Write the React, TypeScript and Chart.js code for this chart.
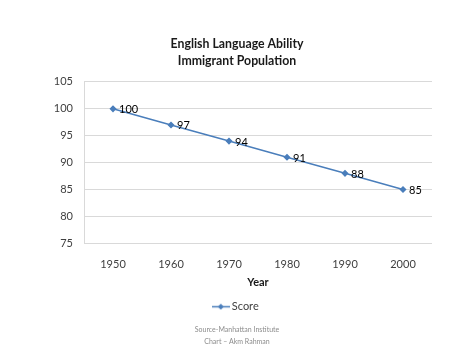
import React, { useEffect, useRef } from "react";
import { Chart, registerables } from "chart.js";

Chart.register(...registerables);

const years = ["1950", "1960", "1970", "1980", "1990", "2000"];
const scores = [100, 97, 94, 91, 88, 85];
const titleLines = ["English Language Ability", "Immigrant Population"];
const footerLines = ["Source-Manhattan Institute", "Chart \u2013 Akm Rahman"];
const seriesName = "Score";
const xTitle = "Year";

const LINE = "#4a7ebb";
const FONT = "Lato, 'Liberation Sans', sans-serif";

function makeLegendIcon(): HTMLCanvasElement {
  const c = document.createElement("canvas");
  c.width = 18;
  c.height = 7;
  const ctx = c.getContext("2d")!;
  ctx.strokeStyle = LINE;
  ctx.lineWidth = 1.5;
  ctx.beginPath();
  ctx.moveTo(0, 3.5);
  ctx.lineTo(18, 3.5);
  ctx.stroke();
  ctx.fillStyle = LINE;
  ctx.beginPath();
  ctx.moveTo(9, 0.5);
  ctx.lineTo(12, 3.5);
  ctx.lineTo(9, 6.5);
  ctx.lineTo(6, 3.5);
  ctx.closePath();
  ctx.fill();
  return c;
}

const dataLabels = {
  id: "dataLabels",
  afterDatasetsDraw(chart: any) {
    const ctx = chart.ctx;
    const meta = chart.getDatasetMeta(0);
    ctx.save();
    ctx.font = `11px ${FONT}`;
    ctx.fillStyle = "#000";
    ctx.textAlign = "left";
    ctx.textBaseline = "middle";
    meta.data.forEach((pt: any, i: number) => {
      ctx.fillText(String(scores[i]), pt.x + 6, pt.y + 1);
    });
    ctx.restore();
  },
};

export default function App() {
  const ref = useRef<HTMLCanvasElement | null>(null);
  useEffect(() => {
    if (!ref.current) return;
    const icon = makeLegendIcon();
    const chart = new Chart(ref.current, {
      type: "line",
      data: {
        labels: years,
        datasets: [
          {
            label: seriesName,
            data: scores,
            borderColor: LINE,
            backgroundColor: LINE,
            borderWidth: 1.5,
            pointStyle: "rectRot",
            pointRadius: 2.5,
            pointBackgroundColor: LINE,
            pointBorderColor: LINE,
            tension: 0,
          },
        ],
      },
      options: {
        animation: false,
        responsive: false,
        layout: { padding: { left: 0, right: 0, top: 0, bottom: 0 } },
        plugins: {
          title: {
            display: true,
            text: titleLines,
            color: "#1a1a1a",
            font: { family: FONT, size: 12.3, weight: "bold", lineHeight: 1.38 },
            padding: { top: 36, bottom: 12 },
          },
          subtitle: {
            display: true,
            position: "bottom",
            text: footerLines,
            color: "#8c8c8c",
            font: { family: FONT, size: 7, lineHeight: 1.7 },
            padding: { top: 2, bottom: 7 },
          },
          legend: {
            position: "bottom",
            labels: {
              usePointStyle: true,
              color: "#404040",
              font: { family: FONT, size: 11 },
              padding: 6,
              generateLabels: () => [
                {
                  text: seriesName,
                  pointStyle: icon as any,
                  fillStyle: LINE,
                  strokeStyle: LINE,
                  lineWidth: 0,
                  hidden: false,
                  datasetIndex: 0,
                  fontColor: "#404040",
                },
              ],
            },
          },
          tooltip: { enabled: false },
        },
        scales: {
          x: {
            offset: true,
            grid: { display: false, drawTicks: false },
            border: { display: false },
            ticks: {
              color: "#404040",
              font: { family: FONT, size: 11 },
              padding: 15,
            },
            title: {
              display: true,
              text: xTitle,
              color: "#1a1a1a",
              font: { family: FONT, size: 11, weight: "bold" },
              padding: { top: 4, bottom: 6 },
            },
            afterFit: (s: any) => {
              s.height = 52;
            },
          },
          y: {
            min: 75,
            max: 105,
            grid: { color: "#d9d9d9", drawTicks: false },
            border: { display: true, color: "#d9d9d9" },
            ticks: {
              stepSize: 5,
              color: "#404040",
              font: { family: FONT, size: 11 },
              padding: 11,
            },
            afterFit: (s: any) => {
              s.width = 84;
            },
          },
          yR: {
            position: "right",
            min: 75,
            max: 105,
            grid: { display: false, drawTicks: false },
            border: { display: false },
            ticks: { display: false },
            afterFit: (s: any) => {
              s.width = 42;
            },
          },
        },
      },
      plugins: [dataLabels],
    });
    return () => chart.destroy();
  }, []);
  return (
    <div style={{ position: "fixed", left: 0, top: 0, width: 474, height: 355, background: "#fff" }}>
      <canvas ref={ref} width={474} height={355} />
    </div>
  );
}
